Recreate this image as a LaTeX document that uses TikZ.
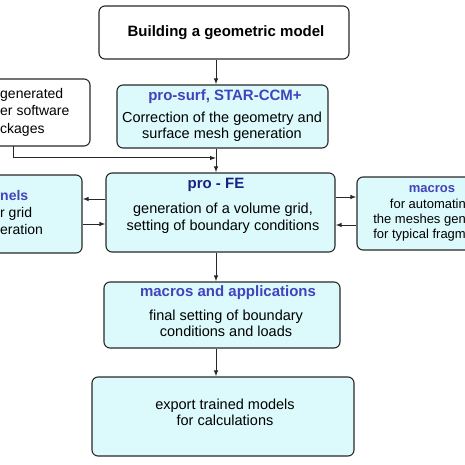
\documentclass[tikz,border=0pt]{standalone}
\usepackage{fontspec}
\setmainfont{Liberation Sans}
\usetikzlibrary{arrows.meta, positioning, calc}
\definecolor{boxcyan}{RGB}{220,250,252}
\definecolor{ttlblue}{RGB}{66,66,186}
\definecolor{ttlnavy}{RGB}{28,34,128}
\definecolor{mydark}{RGB}{40,40,40}
\tikzset{
  plainbox/.style={rectangle, draw=mydark, fill=white, rounded corners=6pt,
    line width=1.1pt, inner sep=0pt},
  block/.style={rectangle, draw=mydark, fill=boxcyan, rounded corners=6pt,
    line width=1.1pt, inner sep=0pt},
  body/.style={align=center, inner sep=0pt, text=black,
    font=\fontsize{14.5}{16.5}\selectfont},
  sidetext/.style={align=left, inner sep=0pt, text=black,
    font=\fontsize{14}{17.5}\selectfont},
  ttl/.style={inner sep=0pt, text=ttlblue,
    font=\fontsize{15}{17}\selectfont\bfseries},
  arrow/.style={-{Latex[length=6pt,width=4.5pt]}, line width=1pt, color=mydark},
  line/.style={line width=1pt, color=mydark}
}

\begin{document}
\begin{tikzpicture}[x=1pt, y=-1pt]
  \useasboundingbox (0,0) rectangle (465,465);
  \clip (0,0) rectangle (465,465);

  % Boxes
  \node[plainbox, minimum width=250pt, minimum height=53pt] (geom) at (224,32.5) {};
  \node[plainbox, minimum width=110pt, minimum height=67pt] (other) at (35,112.5) {};
  \node[block, minimum width=211pt, minimum height=63pt] (surf) at (222.5,116.5) {};
  \node[block, minimum width=102pt, minimum height=78pt] (panels) at (31,214) {};
  \node[block, minimum width=229pt, minimum height=79pt] (fe) at (220.5,212.5) {};
  \node[block, minimum width=133pt, minimum height=73pt] (auto) at (423.5,213.5) {};
  \node[block, minimum width=236pt, minimum height=66pt] (apps) at (222,315) {};
  \node[block, minimum width=262pt, minimum height=79pt] (export) at (223,416.5) {};

  % Texts
  \node[inner sep=0pt, font=\fontsize{15}{17}\selectfont\bfseries] (geomtxt) at (226,33) {Building a geometric model};
  \node[sidetext, anchor=west] (othertxt) at (0,112) {generated\\er software\\ckages};
  \node[ttl] (surfttl) at (225,97) {pro-surf, STAR-CCM+};
  \node[body] (surftxt) at (222,127) {Correction of the geometry and\\surface mesh generation};
  \node[ttl, anchor=west, font=\fontsize{14}{17}\selectfont\bfseries] (panelttl) at (0,195) {nels};
  \node[sidetext, anchor=west] (paneltxt) at (0,221) {r grid\\eration};
  \node[ttl, text=ttlnavy] (fettl) at (216,185) {pro - FE};
  \node[body] (fetxt) at (223,218) {generation of a volume grid,\\setting of boundary conditions};
  \node[ttl, font=\fontsize{13}{15}\selectfont\bfseries] (autottl) at (432,189) {macros};
  \node[align=right, inner sep=0pt, anchor=east, font=\fontsize{13}{15}\selectfont] (autotxt) at (466,220)
    {for automatin\\the meshes gen\\for typical fragm};
  \node[ttl] (appsttl) at (228,293) {macros and applications};
  \node[body] (appstxt) at (226,323.5) {final setting of boundary\\conditions and loads};
  \node[body] (exporttxt) at (225,412.5) {export trained models\\for calculations};

  % Connectors
  \coordinate (spine) at (216,0);
  \coordinate (tapl) at (13,146);
  \coordinate (join) at (216,158);
  \draw[arrow] (geom.south -| spine) -- (surf.north -| spine);
  \draw[line] (surf.south -| spine) -- (join);
  \draw[arrow] (tapl) |- (join);
  \draw[arrow] (join) -- (fe.north -| spine);
  \draw[arrow] (fe.south -| spine) -- (apps.north -| spine);
  \draw[arrow] (apps.south -| spine) -- (export.north -| spine);

  % Side links
  \draw[arrow] ([yshift=13.5pt]fe.west) -- ([yshift=13.5pt]fe.west -| panels.east);
  \draw[arrow] ([yshift=-11.5pt]fe.west -| panels.east) -- ([yshift=-11.5pt]fe.west);
  \draw[arrow] ([yshift=15.5pt]fe.east) -- ([yshift=15.5pt]fe.east -| auto.west);
  \draw[arrow] ([yshift=-12.5pt]fe.east -| auto.west) -- ([yshift=-12.5pt]fe.east);
\end{tikzpicture}
\end{document}
